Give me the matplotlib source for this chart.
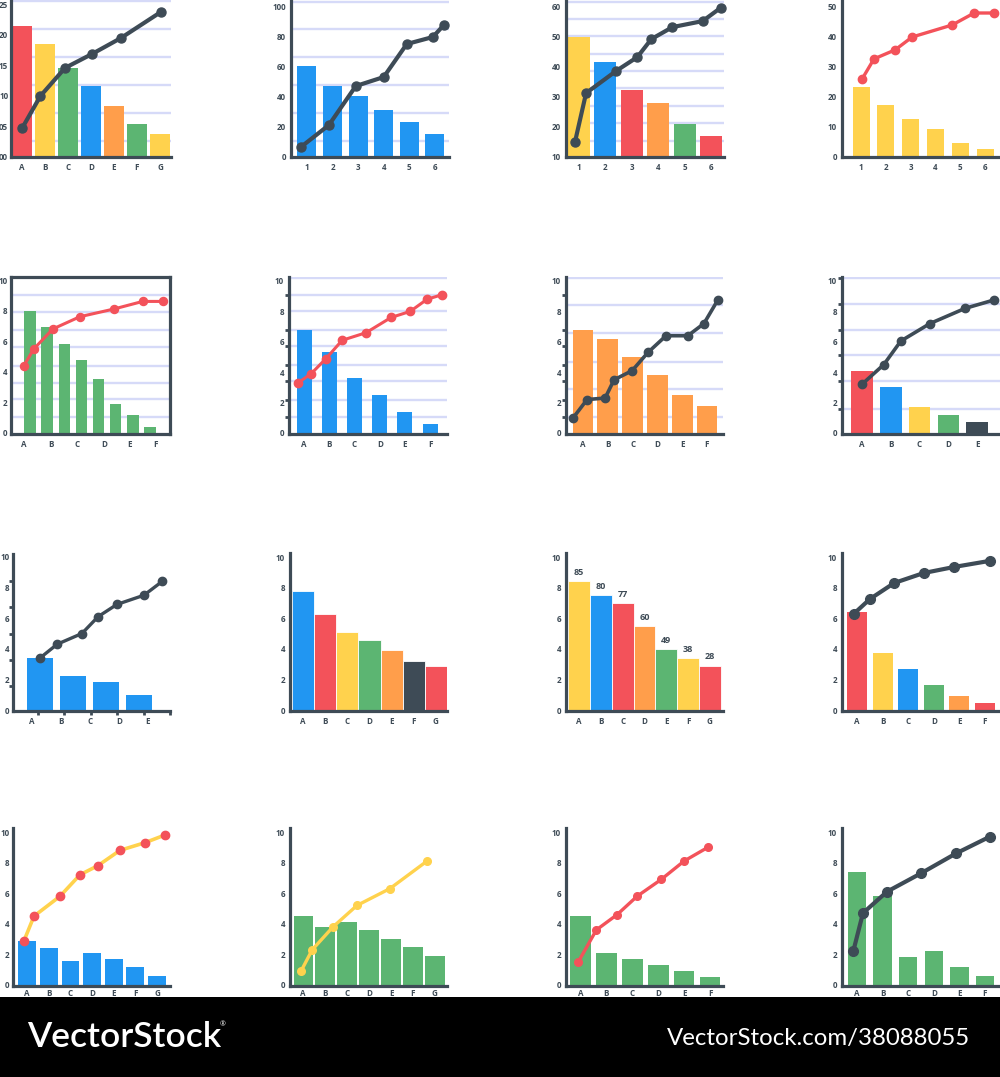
import matplotlib
matplotlib.use('Agg')
import matplotlib.pyplot as plt
from matplotlib.patches import Rectangle

W, H = 1000, 1077
RED = '#F3525A'; YEL = '#FFD24D'; GRN = '#5CB572'; BLU = '#2196F2'
ORG = '#FF9E4B'; DRK = '#3E4B56'; GRID = '#D6DAF8'

# ---------------- data ----------------
p1_cats = ['A', 'B', 'C', 'D', 'E', 'F', 'G']
p1_bars = [21.4, 18.6, 14.6, 11.6, 8.4, 5.4, 3.8]
p1_colors = [RED, YEL, GRN, BLU, ORG, GRN, YEL]
p1_line_x = [0, 0.8, 1.87, 3.05, 4.3, 6.05]
p1_line_y = [4.7, 10.0, 14.6, 16.9, 19.5, 23.8]
p1_yticks = [0, 5, 10, 15, 20, 25]
p1_ylabels = ['00', '05', '10', '15', '20', '25']

p2_cats = ['1', '2', '3', '4', '5', '6']
p2_bars = [60.7, 47.3, 40.4, 31, 23.3, 15.3]
p2_line_x = [-0.23, 0.86, 1.91, 3.0, 3.9, 4.92, 5.35]
p2_line_y = [6.7, 21.3, 47.3, 53.3, 75.3, 80, 88]
p2_yticks = [0, 20, 40, 60, 80, 100]

p3_cats = ['1', '2', '3', '4', '5', '6']
p3_bars = [50, 41.7, 32.3, 28, 21, 17]
p3_colors = [YEL, BLU, RED, ORG, GRN, RED]
p3_line_x = [-0.15, 0.27, 1.41, 2.21, 2.74, 3.54, 4.68, 5.36]
p3_line_y = [15, 31.3, 38.7, 43.3, 49.3, 53.3, 55.3, 59.7]
p3_yticks = [10, 20, 30, 40, 50, 60]

p4_cats = ['1', '2', '3', '4', '5', '6']
p4_bars = [23.3, 17.3, 12.7, 9.3, 4.7, 2.7]
p4_line_x = [0.04, 0.52, 1.37, 2.06, 3.67, 4.56, 5.36]
p4_line_y = [26, 32.7, 35.7, 40, 44, 48, 48]
p4_yticks = [0, 10, 20, 30, 40, 50]

ten_ticks = [0, 2, 4, 6, 8, 10]

p5_cats = ['A', 'B', 'C', 'D', 'E', 'F']
p5_bars = [8.0, 6.9, 5.8, 4.8, 3.5, 1.9, 1.2, 0.4]
p5_line_x = [-0.35, 0.23, 1.34, 2.91, 4.88, 6.57, 7.74]
p5_line_y = [4.4, 5.5, 6.8, 7.6, 8.1, 8.6, 8.6]

p6_cats = ['A', 'B', 'C', 'D', 'E', 'F']
p6_bars = [6.8, 5.3, 3.6, 2.5, 1.4, 0.6]
p6_line_x = [-0.24, 0.28, 0.87, 1.51, 2.46, 3.45, 4.21, 4.88, 5.48]
p6_line_y = [3.3, 3.9, 4.9, 6.1, 6.6, 7.6, 8.0, 8.8, 9.1]

p7_cats = ['A', 'B', 'C', 'D', 'E', 'F']
p7_bars = [6.8, 6.2, 5.0, 3.8, 2.5, 1.8]
p7_line_x = [-0.4, 0.16, 0.89, 1.25, 1.98, 2.62, 3.35, 4.23, 4.88, 5.44]
p7_line_y = [1.0, 2.2, 2.3, 3.5, 4.1, 5.3, 6.4, 6.4, 7.2, 8.75]

p8_cats = ['A', 'B', 'C', 'D', 'E']
p8_bars = [4.1, 3.0, 1.7, 1.2, 0.7]
p8_colors = [RED, BLU, YEL, GRN, DRK]
p8_line_x = [0, 0.76, 1.35, 2.36, 3.58, 4.58]
p8_line_y = [3.2, 4.5, 6.05, 7.2, 8.2, 8.75]

p9_cats = ['A', 'B', 'C', 'D', 'E']
p9_bars = [3.4, 2.2, 1.8, 1.0]
p9_line_x = [0, 0.52, 1.27, 1.76, 2.33, 3.15, 3.7]
p9_line_y = [3.4, 4.3, 5.0, 6.1, 6.9, 7.5, 8.4]

p10_cats = ['A', 'B', 'C', 'D', 'E', 'F', 'G']
p10_bars = [7.8, 6.3, 5.1, 4.6, 3.9, 3.2, 2.9]
p10_colors = [BLU, RED, YEL, GRN, ORG, DRK, RED]

p11_cats = ['A', 'B', 'C', 'D', 'E', 'F', 'G']
p11_bars = [8.4, 7.5, 7.0, 5.5, 4.0, 3.4, 2.9]
p11_colors = [YEL, BLU, RED, ORG, GRN, YEL, RED]
p11_values = ['85', '80', '77', '60', '49', '38', '28']

p12_cats = ['A', 'B', 'C', 'D', 'E', 'F']
p12_bars = [6.4, 3.7, 2.7, 1.65, 0.9, 0.45]
p12_colors = [RED, YEL, BLU, GRN, ORG, RED]
p12_line_x = [-0.12, 0.5, 1.45, 2.6, 3.8, 5.2]
p12_line_y = [6.3, 7.25, 8.3, 8.95, 9.35, 9.75]

p13_cats = ['A', 'B', 'C', 'D', 'E', 'F', 'G']
p13_bars = [2.9, 2.4, 1.6, 2.1, 1.7, 1.2, 0.6]
p13_line_x = [-0.14, 0.32, 1.52, 2.44, 3.27, 4.29, 5.44, 6.36]
p13_line_y = [2.9, 4.5, 5.8, 7.2, 7.8, 8.8, 9.3, 9.8]

p14_cats = ['A', 'B', 'C', 'D', 'E', 'F', 'G']
p14_bars = [4.5, 3.8, 4.1, 3.6, 3.0, 2.5, 1.9]
p14_line_x = [-0.1, 0.41, 1.36, 2.45, 3.95, 5.64]
p14_line_y = [0.9, 2.3, 3.8, 5.2, 6.3, 8.1]

p15_cats = ['A', 'B', 'C', 'D', 'E', 'F']
p15_bars = [4.5, 2.1, 1.7, 1.3, 0.9, 0.5]
p15_line_x = [-0.08, 0.62, 1.42, 2.19, 3.12, 4.0, 4.92]
p15_line_y = [1.5, 3.6, 4.6, 5.8, 6.9, 8.1, 9.0]

p16_cats = ['A', 'B', 'C', 'D', 'E', 'F']
p16_bars = [7.4, 5.8, 1.8, 2.2, 1.2, 0.6]
p16_line_x = [-0.15, 0.23, 1.17, 2.5, 3.87, 5.2]
p16_line_y = [2.2, 4.7, 6.1, 7.3, 8.6, 9.7]

# ---------------- drawing ----------------
plt.rcParams['font.family'] = ['Open Sans', 'DejaVu Sans']
fig = plt.figure(figsize=(W / 100, H / 100), dpi=100)
fig.patch.set_facecolor('white')

TF = dict(fontsize=5.8, fontweight='bold', color=DRK)


def make_ax(x0, x1, ybot, ytop, v0px, vmin, ppu, xlim, frame=False, ypad=3.5, xpad=4.2):
    ax = fig.add_axes([x0 / W, 1 - ybot / H, (x1 - x0) / W, (ybot - ytop) / H])
    ylo = vmin - (ybot - v0px) / ppu
    yhi = vmin + (v0px - ytop) / ppu
    ax.set_ylim(ylo, yhi)
    ax.set_xlim(*xlim)
    ax.set_facecolor('none')
    for s in ['top', 'right']:
        ax.spines[s].set_visible(frame)
    for s in ax.spines.values():
        s.set_color(DRK)
        s.set_linewidth(2.3)
        s.set_zorder(4)
    ax.tick_params(axis='both', which='major', length=0)
    ax.tick_params(axis='y', pad=ypad)
    ax.tick_params(axis='x', pad=xpad)
    return ax


def bars(ax, vals, colors, width, cats=None, xt=None, edge=False):
    x = list(range(len(vals)))
    ax.bar(x, vals, width=width, color=colors, zorder=2,
           edgecolor='white' if edge else 'none', linewidth=0.6 if edge else 0)
    if cats is not None:
        pos = xt if xt is not None else list(range(len(cats)))
        ax.set_xticks(pos)
        ax.set_xticklabels(cats, **TF)


def yt(ax, ticks, labels=None):
    ax.set_yticks(ticks)
    ax.set_yticklabels(labels if labels else [str(t) for t in ticks], **TF)


def grid(ax, vals):
    for v in vals:
        ax.axhline(v, color=GRID, lw=1.7, zorder=0.5)


def line(ax, xs, ys, lc, mc, lw=2.4, ms=5.2):
    ax.plot(xs, ys, color=lc, lw=lw, marker='o', ms=ms, mfc=mc, mec=mc,
            zorder=5, clip_on=False, solid_capstyle='round')


def stubs(ax, vals, axis='y'):
    if axis == 'y':
        ax.set_yticks(vals, minor=True)
        ax.tick_params(axis='y', which='minor', length=3, width=2, color=DRK)
    else:
        ax.set_xticks(vals, minor=True)
        ax.tick_params(axis='x', which='minor', length=3, width=2, color=DRK)


# Row 1
ax = make_ax(11, 171, 157, 0, 157, 0, 6.1, (-0.48, 6.48), ypad=2.0)
grid(ax, [2.6, 7.2, 11.8, 16.4, 21.0, 25.6])
bars(ax, p1_bars, p1_colors, 0.9, p1_cats)
yt(ax, p1_yticks, p1_ylabels)
line(ax, p1_line_x, p1_line_y, DRK, DRK, lw=3.0, ms=6.5)

ax = make_ax(291, 449, 157, 0, 157, 0, 1.5, (-0.62, 5.55))
grid(ax, [10.7, 29.3, 48, 66.7, 85.3, 103.3])
bars(ax, p2_bars, BLU, 0.74, p2_cats)
yt(ax, p2_yticks)
line(ax, p2_line_x, p2_line_y, DRK, DRK, lw=3.0, ms=6.5)

ax = make_ax(566, 724, 157, 0, 157, 10, 3.0, (-0.49, 5.49))
grid(ax, [15.3, 21.3, 27, 33, 38.7, 44.3, 50.3, 56, 61.7])
bars(ax, p3_bars, p3_colors, 0.84, p3_cats)
yt(ax, p3_yticks)
line(ax, p3_line_x, p3_line_y, DRK, DRK, lw=3.0, ms=6.5)

ax = make_ax(842, 1000, 157, 0, 157, 0, 3.0, (-0.77, 5.6))
bars(ax, p4_bars, YEL, 0.69, p4_cats)
yt(ax, p4_yticks)
line(ax, p4_line_x, p4_line_y, RED, RED, lw=2.4, ms=6)

# Row 2
ax = make_ax(11, 170, 434, 277, 433, 0, 15.3, (-1.1, 8.16), frame=True, ypad=2.5)
grid(ax, [1.05, 2.2, 3.3, 4.4, 5.6, 6.7, 7.9, 9.0])
bars(ax, p5_bars, GRN, 0.66, p5_cats, xt=[-0.35, 1.22, 2.73, 4.3, 5.81, 7.33])
yt(ax, ten_ticks)
line(ax, p5_line_x, p5_line_y, RED, RED, lw=2.2, ms=5.8)

ax = make_ax(289, 447, 434, 277, 433, 0, 15.2, (-0.6, 5.67))
g6 = [1.05, 2.2, 3.4, 4.5, 5.7, 6.8, 8.0, 9.1, 10.2]
grid(ax, g6)
bars(ax, p6_bars, BLU, 0.6, p6_cats)
yt(ax, ten_ticks)
stubs(ax, g6[:-1])
line(ax, p6_line_x, p6_line_y, RED, RED, lw=2.2, ms=6)

ax = make_ax(566, 723, 434, 277, 433, 0, 15.2, (-0.69, 5.65))
grid(ax, [1.05, 2.9, 4.7, 6.6, 8.4, 10.2])
bars(ax, p7_bars, ORG, 0.84, p7_cats)
yt(ax, ten_ticks)
stubs(ax, [1.05, 2.2, 3.4, 4.5, 5.7, 6.8, 8.0, 9.1])
line(ax, p7_line_x, p7_line_y, DRK, DRK, lw=2.6, ms=6)

ax = make_ax(842, 1000, 434, 277, 433, 0, 15.2, (-0.69, 4.79))
g8 = [1.6, 3.4, 5.1, 6.8, 8.5, 10.2]
grid(ax, g8)
bars(ax, p8_bars, p8_colors, 0.75, p8_cats)
yt(ax, ten_ticks)
stubs(ax, g8)
line(ax, p8_line_x, p8_line_y, DRK, DRK, lw=2.6, ms=6)

# Row 3
ax = make_ax(13, 170, 711, 554, 710, 0, 15.3, (-0.82, 3.94), ypad=2.5)
bars(ax, p9_bars, BLU, 0.79, p9_cats, xt=[-0.24, 0.64, 1.52, 2.39, 3.27])
yt(ax, ten_ticks)
stubs(ax, [1.6, 3.3, 5.0, 6.7, 8.4])
stubs(ax, [-0.06, 0.73, 1.55, 2.33, 3.15, 3.94], axis='x')
line(ax, p9_line_x, p9_line_y, DRK, DRK, lw=2.4, ms=6)

ax = make_ax(290, 447, 711, 553, 710, 0, 15.3, (-0.59, 6.5))
bars(ax, p10_bars, p10_colors, 1.0, p10_cats, edge=True)
yt(ax, ten_ticks)

ax = make_ax(566, 723, 711, 553, 710, 0, 15.3, (-0.6, 6.6))
bars(ax, p11_bars, p11_colors, 1.0, p11_cats, edge=True)
yt(ax, ten_ticks)
for i, (v, t) in enumerate(zip(p11_bars, p11_values)):
    ax.annotate(t, (i, v), xytext=(0, 3.0), textcoords='offset points',
                ha='center', va='bottom', fontsize=6.5, fontweight='bold', color=DRK)

ax = make_ax(842, 1000, 711, 553, 710, 0, 15.3, (-0.59, 5.59))
bars(ax, p12_bars, p12_colors, 0.78, p12_cats)
yt(ax, ten_ticks)
line(ax, p12_line_x, p12_line_y, DRK, DRK, lw=3.0, ms=7)

# Row 4
ax = make_ax(13, 170, 986, 828, 985, 0, 15.3, (-0.65, 6.6), ypad=2.5, xpad=1.8)
bars(ax, p13_bars, BLU, 0.82, p13_cats)
yt(ax, ten_ticks)
line(ax, p13_line_x, p13_line_y, YEL, RED, lw=2.6, ms=6)

ax = make_ax(290, 447, 986, 828, 985, 0, 15.3, (-0.6, 6.55), xpad=1.8)
bars(ax, p14_bars, GRN, 0.88, p14_cats)
yt(ax, ten_ticks)
line(ax, p14_line_x, p14_line_y, YEL, YEL, lw=2.4, ms=5.5)

ax = make_ax(566, 723, 986, 828, 985, 0, 15.3, (-0.55, 5.5), xpad=1.8)
bars(ax, p15_bars, GRN, 0.8, p15_cats)
yt(ax, ten_ticks)
line(ax, p15_line_x, p15_line_y, RED, RED, lw=2.4, ms=5.5)

ax = make_ax(842, 1000, 986, 828, 985, 0, 15.3, (-0.59, 5.59), xpad=1.8)
bars(ax, p16_bars, GRN, 0.72, p16_cats)
yt(ax, ten_ticks)
line(ax, p16_line_x, p16_line_y, DRK, DRK, lw=3.0, ms=7)

# Watermark banner
fig.patches.append(Rectangle((0, 0), 1, 80 / H, transform=fig.transFigure,
                             facecolor='black', edgecolor='none', zorder=0))
fig.text(27 / W, 40 / H, 'VectorStock', color='white', fontsize=25.5,
         ha='left', va='center', family='Lato', fontweight='semibold')
fig.text(220 / W, 52 / H, '®', color='white', fontsize=5, ha='left', va='center')
fig.text(970 / W, 38 / H, 'VectorStock.com/38088055', color='white', fontsize=17.3,
         ha='right', va='center', family='Lato')

fig.savefig('out.png', dpi=100)
